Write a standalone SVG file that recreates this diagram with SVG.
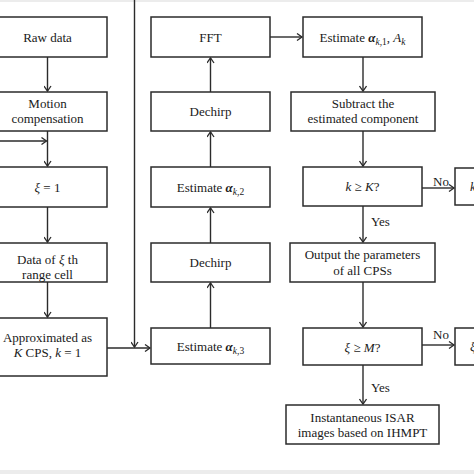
<svg xmlns="http://www.w3.org/2000/svg" width="474" height="474" viewBox="0 0 474 474">
<defs>
<style>
.box{fill:#fff;stroke:#2b2b2b;stroke-width:1.5}
.ln{fill:none;stroke:#2b2b2b;stroke-width:1.4}
text{font-family:"Liberation Serif","Times New Roman",serif;font-size:13px;fill:#1a1a1a;text-anchor:middle}
.lab{text-anchor:start}
.i{font-style:italic}
.b{font-weight:bold;font-style:italic}
.s{font-size:9.5px}
</style>
<marker id="ah" markerWidth="8" markerHeight="8" refX="6" refY="4" orient="auto" markerUnits="userSpaceOnUse">
<path d="M1,0.5 L6,4 L1,7.5" fill="none" stroke="#2b2b2b" stroke-width="1.3"/>
</marker>
</defs>
<rect x="0" y="0" width="474" height="474" fill="#fff"/>
<rect x="0" y="0" width="474" height="2" fill="#ececec"/>
<rect x="0" y="470" width="474" height="4" fill="#ececec"/>

<g id="connectors">
<line class="ln" x1="47.5" y1="57" x2="47.5" y2="91" marker-end="url(#ah)"/>
<line class="ln" x1="47.5" y1="131" x2="47.5" y2="166" marker-end="url(#ah)"/>
<line class="ln" x1="0" y1="141" x2="46.5" y2="141" marker-end="url(#ah)"/>
<line class="ln" x1="47.5" y1="207" x2="47.5" y2="242" marker-end="url(#ah)"/>
<line class="ln" x1="47.5" y1="282" x2="47.5" y2="317" marker-end="url(#ah)"/>
<line class="ln" x1="134.5" y1="0" x2="134.5" y2="347" marker-end="url(#ah)"/>
<line class="ln" x1="107" y1="348" x2="150" y2="348" marker-end="url(#ah)"/>
<line class="ln" x1="210.5" y1="328" x2="210.5" y2="283" marker-end="url(#ah)"/>
<line class="ln" x1="210.5" y1="243" x2="210.5" y2="208" marker-end="url(#ah)"/>
<line class="ln" x1="210.5" y1="167" x2="210.5" y2="132" marker-end="url(#ah)"/>
<line class="ln" x1="210.5" y1="92" x2="210.5" y2="58" marker-end="url(#ah)"/>
<line class="ln" x1="270" y1="37" x2="302" y2="37" marker-end="url(#ah)"/>
<line class="ln" x1="363" y1="57" x2="363" y2="91" marker-end="url(#ah)"/>
<line class="ln" x1="363" y1="131" x2="363" y2="166" marker-end="url(#ah)"/>
<line class="ln" x1="422" y1="188" x2="454" y2="188" marker-end="url(#ah)"/>
<line class="ln" x1="363" y1="206" x2="363" y2="242" marker-end="url(#ah)"/>
<line class="ln" x1="363" y1="282" x2="363" y2="327" marker-end="url(#ah)"/>
<line class="ln" x1="422" y1="345" x2="454" y2="345" marker-end="url(#ah)"/>
<line class="ln" x1="363" y1="365" x2="363" y2="404" marker-end="url(#ah)"/>
<text class="lab" x="433" y="186">No</text>
<text class="lab" x="371" y="226">Yes</text>
<text class="lab" x="433" y="339">No</text>
<text class="lab" x="371" y="392">Yes</text>
</g>

<g id="raw-data"><rect class="box" x="-12" y="17" width="119" height="40"/><text x="47.5" y="41.5">Raw data</text></g>
<g id="motion-compensation"><rect class="box" x="-12" y="92" width="119" height="39"/><text x="47.5" y="107.5">Motion</text><text x="47.5" y="122.5">compensation</text></g>
<g id="xi-1"><rect class="box" x="-12" y="167" width="119" height="40"/><text x="47.5" y="191.5"><tspan class="i">ξ</tspan> = 1</text></g>
<g id="data-range-cell"><rect class="box" x="-12" y="243" width="119" height="39"/><text x="47.5" y="263.5">Data of <tspan class="i">ξ</tspan> th</text><text x="47.5" y="278.5">range cell</text></g>
<g id="approximated"><rect class="box" x="-12" y="318" width="119" height="58"/><text x="47.5" y="341.5">Approximated as</text><text x="47.5" y="357"><tspan class="i">K</tspan> CPS, <tspan class="i">k</tspan> = 1</text></g>

<g id="fft"><rect class="box" x="151" y="17" width="119" height="40"/><text x="210.5" y="41.5">FFT</text></g>
<g id="dechirp-1"><rect class="box" x="151" y="92" width="119" height="39"/><text x="210.5" y="116">Dechirp</text></g>
<g id="estimate-2"><rect class="box" x="151" y="167" width="119" height="40"/><text x="210.5" y="191.5">Estimate <tspan class="b">α</tspan><tspan class="s" dy="3"><tspan class="i">k</tspan>,2</tspan></text></g>
<g id="dechirp-2"><rect class="box" x="151" y="243" width="119" height="39"/><text x="210.5" y="267">Dechirp</text></g>
<g id="estimate-3"><rect class="box" x="151" y="328" width="119" height="36"/><text x="210.5" y="350.5">Estimate <tspan class="b">α</tspan><tspan class="s" dy="3"><tspan class="i">k</tspan>,3</tspan></text></g>

<g id="estimate-1"><rect class="box" x="303" y="17" width="119" height="40"/><text x="362.5" y="41.5">Estimate <tspan class="b">α</tspan><tspan class="s" dy="3"><tspan class="i">k</tspan>,1</tspan><tspan dy="-3">, </tspan><tspan class="i">A</tspan><tspan class="s i" dy="3">k</tspan></text></g>
<g id="subtract"><rect class="box" x="291" y="92" width="144" height="39"/><text x="363" y="107.5">Subtract the</text><text x="363" y="122.5">estimated component</text></g>
<g id="k-check"><rect class="box" x="303" y="167" width="119" height="39"/><text x="362.5" y="191"><tspan class="i">k</tspan> ≥ <tspan class="i">K</tspan>?</text></g>
<g id="k-inc"><rect class="box" x="455" y="168" width="30" height="37"/><text class="lab i" x="470" y="191">k = k + 1</text></g>
<g id="output-params"><rect class="box" x="290" y="243" width="145" height="39"/><text x="362.5" y="259">Output the parameters</text><text x="362.5" y="274.5">of all CPSs</text></g>
<g id="xi-check"><rect class="box" x="303" y="328" width="119" height="37"/><text x="362.5" y="352"><tspan class="i">ξ</tspan> ≥ <tspan class="i">M</tspan>?</text></g>
<g id="xi-inc"><rect class="box" x="455" y="328" width="30" height="37"/><text class="lab" x="470" y="351"><tspan class="i">ξ</tspan> = <tspan class="i">ξ</tspan> + 1</text></g>
<g id="isar"><rect class="box" x="286" y="405" width="153" height="39"/><text x="362.5" y="421.5">Instantaneous ISAR</text><text x="362.5" y="436.5">images based on IHMPT</text></g>
</svg>
